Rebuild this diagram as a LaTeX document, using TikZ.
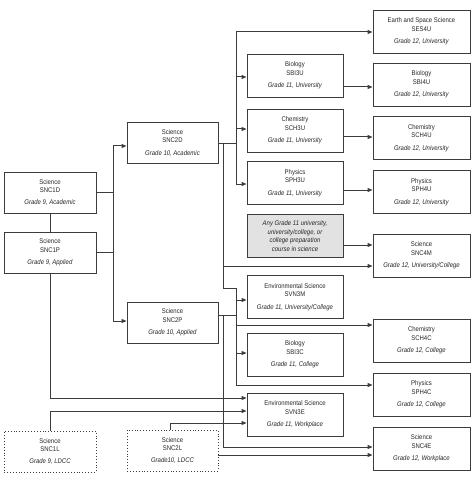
\documentclass[tikz,border=0pt]{standalone}
\usepackage{fontspec}
\setmainfont{Liberation Sans}[FakeStretch=0.88]
\usetikzlibrary{arrows.meta}
\definecolor{lc}{HTML}{3C3C3C}
\definecolor{tx}{HTML}{262626}
\definecolor{gbox}{HTML}{E2E2E2}
\newcommand{\cbox}[3]{#1\\#2\\[4.2pt]\textit{#3}}
\begin{document}
\begin{tikzpicture}[x=1pt,y=-1pt,
  box/.style={draw=lc, line width=0.9pt, inner sep=0pt, align=center, text=tx,
              font=\fontsize{6.8}{8.2}\selectfont},
  leftb/.style={box, minimum width=92pt, minimum height=41pt},
  tenb/.style={box, minimum width=91pt, minimum height=41pt},
  midb/.style={box, minimum width=96pt, minimum height=43pt},
  rgtb/.style={box, minimum width=97pt, minimum height=43pt},
  dotb/.style={dotted, line width=0.7pt},
  conn/.style={draw=lc, line width=1pt},
  arr/.style={conn, -{Triangle[length=5pt,width=4pt]}}]
\useasboundingbox (0,0) rectangle (474,489);
% grade 9
\node[leftb] (c1d) at (50,192.5) {\cbox{Science}{SNC1D}{Grade 9, Academic}};
\node[leftb] (c1p) at (50,252.5) {\cbox{Science}{SNC1P}{Grade 9, Applied}};
\node[leftb,dotb] (c1l) at (50,451.5) {\cbox{Science}{SNC1L}{Grade 9, LDCC}};
% grade 10
\node[tenb] (c2d) at (172.5,143) {\cbox{Science}{SNC2D}{Grade 10, Academic}};
\node[tenb] (c2p) at (172.5,322.5) {\cbox{Science}{SNC2P}{Grade 10, Applied}};
\node[tenb,dotb] (c2l) at (172.5,450.5) {\cbox{Science}{SNC2L}{Grade10, LDCC}};
% grade 11
\node[midb] (bi3u) at (295,75.5) {\cbox{Biology}{SBI3U}{Grade 11, University}};
\node[midb] (ch3u) at (295,130.5) {\cbox{Chemistry}{SCH3U}{Grade 11, University}};
\node[midb] (ph3u) at (295,183) {\cbox{Physics}{SPH3U}{Grade 11, University}};
\node[midb, fill=gbox, font=\fontsize{6.8}{8.4}\selectfont\itshape] (any) at (295,236)
  {Any Grade 11 university,\\university/college, or\\college preparation\\course in science};
\node[midb] (vn3m) at (295,297) {\cbox{Environmental Science}{SVN3M}{Grade 11, University/College}};
\node[midb] (bi3c) at (295,354.5) {\cbox{Biology}{SBI3C}{Grade 11, College}};
\node[midb] (vn3e) at (295,414.5) {\cbox{Environmental Science}{SVN3E}{Grade 11, Workplace}};
% grade 12
\node[rgtb] (es4u) at (421.5,31.5) {\cbox{Earth and Space Science}{SES4U}{Grade 12, University}};
\node[rgtb] (bi4u) at (421.5,84.5) {\cbox{Biology}{SBI4U}{Grade 12, University}};
\node[rgtb] (ch4u) at (421.5,138) {\cbox{Chemistry}{SCH4U}{Grade 12, University}};
\node[rgtb] (ph4u) at (421.5,192) {\cbox{Physics}{SPH4U}{Grade 12, University}};
\node[rgtb] (nc4m) at (421.5,255.5) {\cbox{Science}{SNC4M}{Grade 12, University/College}};
\node[rgtb] (ch4c) at (421.5,340.5) {\cbox{Chemistry}{SCH4C}{Grade 12, College}};
\node[rgtb] (ph4c) at (421.5,394.5) {\cbox{Physics}{SPH4C}{Grade 12, College}};
\node[rgtb] (nc4e) at (421.5,448.5) {\cbox{Science}{SNC4E}{Grade 12, Workplace}};
% bus coordinates
\coordinate (b1) at (113,146);
\coordinate (b2) at (113,321);
\coordinate (u1) at (236,32);
\coordinate (u2) at (236,184);
\coordinate (v1) at (223,144);
\coordinate (v2) at (223,288);
\coordinate (w1) at (236,288);
\coordinate (w2) at (236,385);
\coordinate (x1) at (223,315);
\coordinate (x2) at (223,447);
% grade 9 -> grade 10
\draw[conn] (c1d.south) -- (c1p.north);
\draw[conn] (c1d.east) -| (b1);
\draw[conn] (c1p.east) -- (c1p.east -| b1);
\draw[arr] (b1) -- (c2d.west |- b1);
\draw[arr] (b1) |- (c2p.west |- b2);
% to SVN3E
\draw[arr] (c1p.south) |- (vn3e.west |- 0,398);
\draw[arr] (c1l.north) |- (vn3e.west |- 0,411);
\draw[arr] (c2l.north -| 170,0) |- (vn3e.west |- 0,423);
% SNC2D bus
\draw[conn] (c2d.east |- v1) -- (u1 |- v1);
\draw[conn] (u1) -- (u2);
\draw[arr] (u1) -- (es4u.west |- u1);
\draw[arr] (u1 |- 0,77) -- (bi3u.west |- 0,77);
\draw[arr] (u1 |- 0,129) -- (ch3u.west |- 0,129);
\draw[arr] (u2) -- (ph3u.west |- u2);
\draw[conn] (v1) -- (v2) -- (w1) -- (w2);
\draw[arr] (v1 |- 0,266) -- (nc4m.west |- 0,266);
\draw[arr] (w1 |- 0,300) -- (vn3m.west |- 0,300);
\draw[arr] (w1 |- 0,325) -- (ch4c.west |- 0,325);
\draw[arr] (w1 |- 0,353) -- (bi3c.west |- 0,353);
\draw[arr] (w2) -- (ph4c.west |- w2);
% SNC2P
\draw[conn] (c2p.east |- x1) -- (w1 |- x1);
\draw[conn] (x1) -- (x2);
\draw[arr] (x2) -- (nc4e.west |- x2);
% SNC2L
\draw[arr] (c2l.east |- 0,455) -- (nc4e.west |- 0,455);
% grade 11 -> grade 12
\draw[arr] (bi3u.east |- 0,87) -- (bi4u.west |- 0,87);
\draw[arr] (ch3u.east |- 0,137) -- (ch4u.west |- 0,137);
\draw[arr] (ph3u.east |- 0,190) -- (ph4u.west |- 0,190);
\draw[arr] (any.east |- 0,245) -- (nc4m.west |- 0,245);
\end{tikzpicture}
\end{document}
